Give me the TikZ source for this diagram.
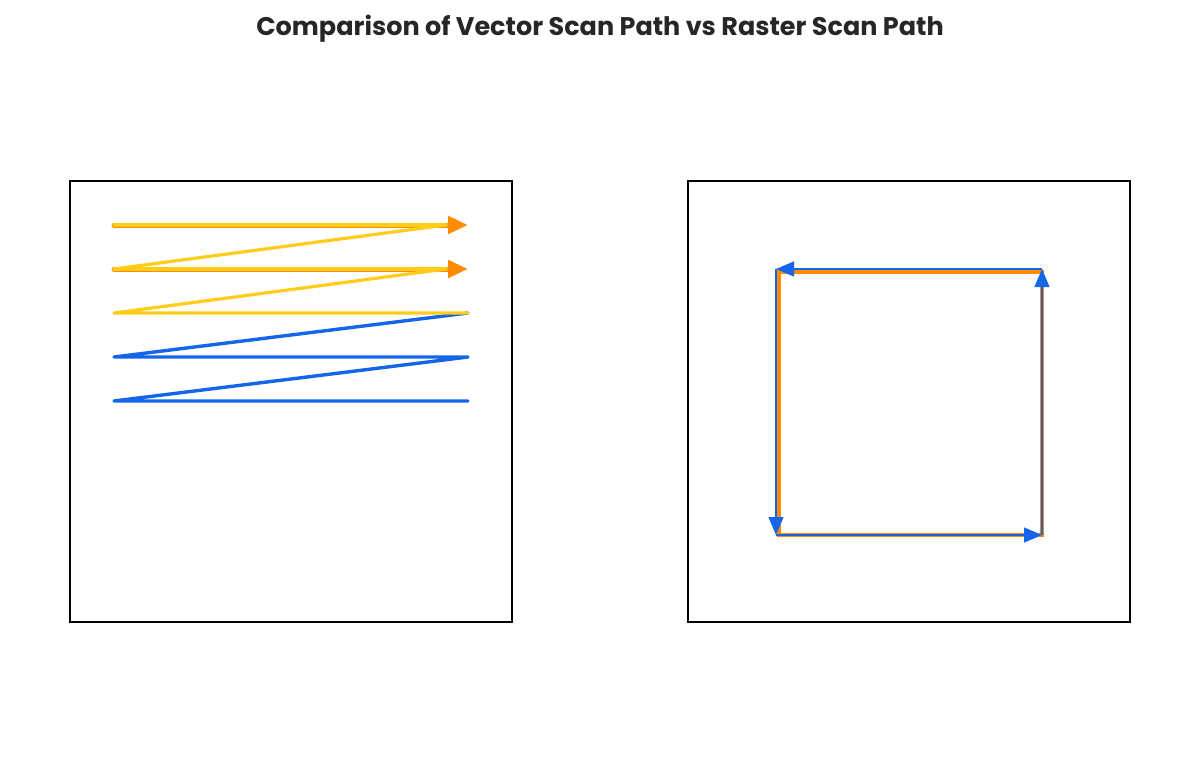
\documentclass[tikz,border=0pt]{standalone}
\usepackage{fontspec}
\setmainfont{Poppins}
\usetikzlibrary{arrows.meta}
\definecolor{scanblue}{HTML}{1366EA}
\definecolor{scanorange}{HTML}{FF8C00}
\definecolor{scanyellow}{HTML}{FFCC19}
\tikzset{
  frame/.style={draw=black, line width=2pt},
  blueline/.style={draw=scanblue, line width=3.4pt, line cap=round, line join=round},
  orangearrow/.style={draw=scanorange, line width=5pt, line cap=round, -{Triangle[length=20pt,width=17pt]}},
  yellowline/.style={draw=scanyellow, line width=3.2pt, line cap=round, line join=round},
  bluearrow/.style={draw=scanblue, line width=1.2pt, -{Triangle[length=18pt,width=15pt]}},
  orangeline/.style={draw=scanorange, line width=4pt, line join=miter}
}
\begin{document}
\begin{tikzpicture}[x=1pt,y=-1pt]
\useasboundingbox (0,0) rectangle (1200,763);

% title
\node[font=\fontsize{25.5}{30}\selectfont\bfseries, text=black!85] (title) at (600,29) {Comparison of Vector Scan Path vs Raster Scan Path};

% panels
\draw[frame] (70,181) rectangle (512,622);
\draw[frame] (688,181) rectangle (1130,622);

% left: raster lines
\foreach \i/\y in {1/225,2/269,3/313,4/357,5/401} {
  \coordinate (l\i) at (114,\y);
  \coordinate (r\i) at (468,\y);
}
\draw[blueline] (r3) -- (l4) -- (r4) -- (l5) -- (r5);
\draw[orangearrow] (l1) -- (r1);
\draw[orangearrow] (l2) -- (r2);
\draw[yellowline] (l1) -- ([xshift=-22pt]r1);
\draw[yellowline] (l2) -- ([xshift=-22pt]r2);
\draw[yellowline] ([xshift=-22pt]r1) -- (l2);
\draw[yellowline] ([xshift=-22pt]r2) -- (l3) -- (r3);

% right: vector square
\coordinate (tl) at (776,269);
\coordinate (tr) at (1042,269);
\coordinate (bl) at (776,535);
\coordinate (br) at (1042,535);
\draw[orangeline] ([shift={(2.5,2.5)}]tl) rectangle ([shift={(-0.5,-0.5)}]br);
\draw[bluearrow] (br) -- (tr);
\draw[bluearrow] (tr) -- (tl);
\draw[bluearrow] (tl) -- (bl);
\draw[bluearrow] (bl) -- (br);
\end{tikzpicture}
\end{document}
